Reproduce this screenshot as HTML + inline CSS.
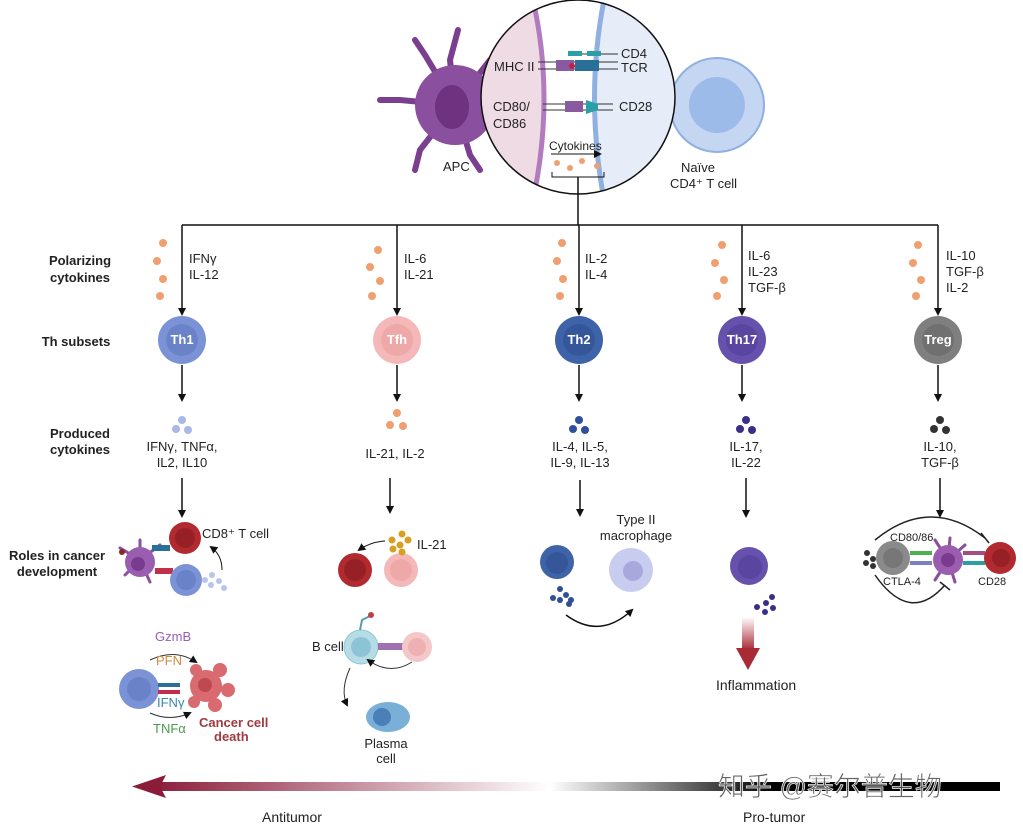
<!DOCTYPE html>
<html><head><meta charset="utf-8"><style>
html,body{margin:0;padding:0;background:#fff}
svg{display:block}
text{font-family:"Liberation Sans","Noto Sans CJK SC",sans-serif;font-size:13px;fill:#222}
.b{font-weight:bold}
</style></head><body>
<svg width="1023" height="827" viewBox="0 0 1023 827" xmlns="http://www.w3.org/2000/svg">
<defs>
<marker id="a" markerWidth="8" markerHeight="8" refX="6" refY="4" orient="auto" markerUnits="userSpaceOnUse"><path d="M0,0 L8,4 L0,8 z" fill="#111"/></marker>
<linearGradient id="g1" x1="0" x2="1"><stop offset="0" stop-color="#8a1c3a"/><stop offset="1" stop-color="#fff"/></linearGradient>
<linearGradient id="g2" x1="0" x2="1"><stop offset="0" stop-color="#fff"/><stop offset="0.5" stop-color="#000"/><stop offset="1" stop-color="#000"/></linearGradient>
<linearGradient id="g3" x1="0" y1="0" x2="0" y2="1"><stop offset="0" stop-color="#fff"/><stop offset="1" stop-color="#a82a35"/></linearGradient>
<clipPath id="cc"><circle cx="578" cy="97" r="97"/></clipPath>
</defs>
<!-- APC -->
<g fill="none" stroke="#7a3f8e" stroke-width="6" stroke-linecap="round">
<path d="M455,105 L425,55 L415,40 M455,105 L450,60 L458,30 M455,105 L400,100 L380,100 M455,105 L420,150 L415,170 M455,105 L470,155 L480,170 M455,105 L490,60"/>
</g>
<circle cx="455" cy="105" r="40" fill="#8a4f9e"/>
<ellipse cx="452" cy="107" rx="17" ry="22" fill="#6e3280"/>
<!-- T cell -->
<circle cx="717" cy="105" r="47" fill="#c4d6f2" stroke="#8fb0e0" stroke-width="2"/>
<circle cx="717" cy="105" r="28" fill="#9dbbe8"/>
<!-- big circle -->
<g clip-path="url(#cc)">
<rect x="480" y="0" width="200" height="200" fill="#fff"/>
<path d="M480,0 L533,0 Q555,97 533,200 L480,200z" fill="#efdbe4"/>
<path d="M533,0 Q555,97 533,200" fill="none" stroke="#b27bbf" stroke-width="5"/>
<path d="M604,0 Q585,97 604,200 L680,200 L680,0z" fill="#e6edf8"/>
<path d="M604,0 Q585,97 604,200" fill="none" stroke="#8fb0e0" stroke-width="5"/>
</g>
<circle cx="578" cy="97" r="97" fill="none" stroke="#111" stroke-width="1.5"/>
<g stroke="#333" stroke-width="1"><line x1="538" y1="62" x2="618" y2="62"/><line x1="538" y1="69" x2="618" y2="69"/><line x1="543" y1="104" x2="613" y2="104"/><line x1="543" y1="110" x2="613" y2="110"/><line x1="575" y1="54" x2="618" y2="54"/></g>
<rect x="556" y="60" width="18" height="11" fill="#8a5aa0"/><rect x="575" y="60" width="24" height="11" fill="#2a6f98"/>
<rect x="568" y="51" width="14" height="5" fill="#2aa0a6"/><rect x="587" y="51" width="14" height="5" fill="#2aa0a6"/>
<circle cx="572" cy="66" r="3" fill="#c0204a"/>
<rect x="565" y="101" width="18" height="11" fill="#8a5aa0"/><path d="M586,100 L598,104 L598,110 L586,114z" fill="#2aa0a6"/>
<text x="494" y="71">MHC II</text><text x="621" y="58">CD4</text><text x="621" y="72">TCR</text>
<text x="493" y="111">CD80/</text><text x="493" y="128">CD86</text><text x="619" y="111">CD28</text>
<text x="549" y="150" style="font-size:12px">Cytokines</text>
<line x1="551" y1="154" x2="600" y2="154" stroke="#111" marker-end="url(#a)"/>
<g fill="#f0a070"><circle cx="557" cy="163" r="3"/><circle cx="570" cy="168" r="3"/><circle cx="582" cy="161" r="3"/><circle cx="597" cy="166" r="3"/></g>
<path d="M552,172 L552,177 L604,177 L604,172" fill="none" stroke="#111"/>
<text x="443" y="171">APC</text>
<text x="681" y="172">Naïve</text><text x="670" y="188">CD4⁺ T cell</text>
<!-- tree -->
<g stroke="#111" stroke-width="1.5" fill="none">
<line x1="578" y1="177" x2="578" y2="225"/>
<line x1="182" y1="225" x2="938" y2="225"/>
</g>
<g stroke="#111" stroke-width="1.5" marker-end="url(#a)">
<line x1="182" y1="225" x2="182" y2="314"/><line x1="397" y1="225" x2="397" y2="314"/><line x1="579" y1="225" x2="579" y2="314"/><line x1="742" y1="225" x2="742" y2="314"/><line x1="938" y1="225" x2="938" y2="314"/>
<line x1="182" y1="365" x2="182" y2="400"/><line x1="397" y1="365" x2="397" y2="400"/><line x1="579" y1="365" x2="579" y2="400"/><line x1="742" y1="365" x2="742" y2="400"/><line x1="938" y1="365" x2="938" y2="400"/>
<line x1="182" y1="478" x2="182" y2="516"/><line x1="390" y1="478" x2="390" y2="512"/><line x1="580" y1="480" x2="580" y2="515"/><line x1="746" y1="478" x2="746" y2="516"/><line x1="940" y1="478" x2="940" y2="516"/>
</g>
<!-- left labels -->
<g text-anchor="middle"><text x="80" y="265" class="b">Polarizing</text><text x="80" y="282" class="b">cytokines</text>
<text x="76" y="346" class="b">Th subsets</text>
<text x="80" y="438" class="b">Produced</text><text x="80" y="454" class="b">cytokines</text>
<text x="57" y="560" class="b">Roles in cancer</text><text x="57" y="576" class="b">development</text></g>
<!-- polarizing dots -->
<g fill="#f0a070">
<circle cx="163" cy="243" r="4"/><circle cx="157" cy="261" r="4"/><circle cx="163" cy="279" r="4"/><circle cx="160" cy="296" r="4"/>
<circle cx="378" cy="250" r="4"/><circle cx="370" cy="267" r="4"/><circle cx="380" cy="281" r="4"/><circle cx="372" cy="296" r="4"/>
<circle cx="562" cy="243" r="4"/><circle cx="557" cy="261" r="4"/><circle cx="563" cy="279" r="4"/><circle cx="560" cy="296" r="4"/>
<circle cx="722" cy="245" r="4"/><circle cx="715" cy="263" r="4"/><circle cx="724" cy="280" r="4"/><circle cx="717" cy="296" r="4"/>
<circle cx="918" cy="245" r="4"/><circle cx="913" cy="263" r="4"/><circle cx="921" cy="280" r="4"/><circle cx="916" cy="296" r="4"/>
</g>
<text x="189" y="263">IFNγ</text><text x="189" y="279">IL-12</text>
<text x="404" y="263">IL-6</text><text x="404" y="279">IL-21</text>
<text x="585" y="263">IL-2</text><text x="585" y="279">IL-4</text>
<text x="748" y="260">IL-6</text><text x="748" y="276">IL-23</text><text x="748" y="292">TGF-β</text>
<text x="946" y="260">IL-10</text><text x="946" y="276">TGF-β</text><text x="946" y="292">IL-2</text>
<!-- subsets -->
<g text-anchor="middle">
<circle cx="182" cy="340" r="24" fill="#7b93d6"/><circle cx="182" cy="340" r="16" fill="#6a82c8"/><text x="182" y="344" class="b" style="fill:#fff">Th1</text>
<circle cx="397" cy="340" r="24" fill="#f4b8b8"/><circle cx="397" cy="340" r="16" fill="#eea8a8"/><text x="397" y="344" class="b" style="fill:#fff">Tfh</text>
<circle cx="579" cy="340" r="24" fill="#3f63a8"/><circle cx="579" cy="340" r="16" fill="#35579a"/><text x="579" y="344" class="b" style="fill:#fff">Th2</text>
<circle cx="742" cy="340" r="24" fill="#6652ad"/><circle cx="742" cy="340" r="16" fill="#5a46a0"/><text x="742" y="344" class="b" style="fill:#fff">Th17</text>
<circle cx="938" cy="340" r="24" fill="#7f7f7f"/><circle cx="938" cy="340" r="16" fill="#707070"/><text x="938" y="344" class="b" style="fill:#fff">Treg</text>
</g>
<!-- produced dots -->
<g fill="#a9b8e6"><circle cx="182" cy="420" r="4"/><circle cx="176" cy="429" r="4"/><circle cx="188" cy="430" r="4"/></g>
<g fill="#f0a070"><circle cx="397" cy="413" r="4"/><circle cx="390" cy="425" r="4"/><circle cx="403" cy="426" r="4"/></g>
<g fill="#2f4f98"><circle cx="579" cy="420" r="4"/><circle cx="573" cy="429" r="4"/><circle cx="585" cy="430" r="4"/></g>
<g fill="#3a2f88"><circle cx="746" cy="420" r="4"/><circle cx="740" cy="429" r="4"/><circle cx="752" cy="430" r="4"/></g>
<g fill="#333"><circle cx="940" cy="420" r="4"/><circle cx="934" cy="429" r="4"/><circle cx="946" cy="430" r="4"/></g>
<g text-anchor="middle"><text x="182" y="451">IFNγ, TNFα,</text><text x="182" y="467">IL2, IL10</text>
<text x="395" y="458">IL-21, IL-2</text>
<text x="580" y="451">IL-4, IL-5,</text><text x="580" y="467">IL-9, IL-13</text>
<text x="746" y="451">IL-17,</text><text x="746" y="467">IL-22</text>
<text x="940" y="451">IL-10,</text><text x="940" y="467">TGF-β</text></g>
<!-- Th1 roles -->
<g stroke="#8a4f9e" stroke-width="3" stroke-linecap="round"><path d="M140,560 L120,548 M140,560 L125,575 M140,560 L140,540 M140,560 L150,582 M140,560 L160,545"/></g>
<circle cx="140" cy="562" r="15" fill="#9a5db0"/><circle cx="138" cy="564" r="7" fill="#7a3a90"/>
<circle cx="122" cy="552" r="3" fill="#8a2a20"/>
<rect x="152" y="545" width="18" height="6" fill="#2a6f98"/><rect x="155" y="568" width="18" height="6" fill="#c0304a"/>
<circle cx="185" cy="538" r="16" fill="#b02a30"/><circle cx="185" cy="538" r="10" fill="#962025"/>
<circle cx="186" cy="580" r="16" fill="#7b93d6"/><circle cx="186" cy="580" r="10" fill="#6a82c8"/>
<g fill="#b8c4ec"><circle cx="205" cy="580" r="3"/><circle cx="212" cy="575" r="3"/><circle cx="211" cy="585" r="3"/><circle cx="219" cy="581" r="3"/><circle cx="224" cy="588" r="3"/></g>
<path d="M222,570 Q222,555 211,547" fill="none" stroke="#111" marker-end="url(#a)"/>
<text x="202" y="538">CD8⁺ T cell</text>
<!-- Th1 killing -->
<circle cx="139" cy="689" r="20" fill="#7b93d6"/><circle cx="139" cy="689" r="12" fill="#6a82c8"/>
<rect x="158" y="683" width="22" height="4" fill="#2a6f98"/><rect x="158" y="690" width="22" height="4" fill="#c0304a"/>
<g fill="#d86a70"><circle cx="206" cy="686" r="16"/><circle cx="196" cy="670" r="6"/><circle cx="220" cy="670" r="7"/><circle cx="228" cy="690" r="7"/><circle cx="215" cy="705" r="7"/><circle cx="194" cy="702" r="6"/></g>
<circle cx="205" cy="685" r="7" fill="#c04850"/>
<path d="M150,660 Q175,648 196,662" fill="none" stroke="#333" marker-end="url(#a)"/>
<path d="M150,713 Q170,722 190,713" fill="none" stroke="#333" marker-end="url(#a)"/>
<text x="155" y="641" style="fill:#9a5db0">GzmB</text>
<text x="156" y="665" style="fill:#d08a40">PFN</text>
<text x="157" y="707" style="fill:#3a86b0">IFNγ</text>
<text x="153" y="733" style="fill:#4a9a50">TNFα</text>
<text x="199" y="727" class="b" style="fill:#a03a40">Cancer cell</text>
<text x="214" y="741" class="b" style="fill:#a03a40">death</text>
<!-- Tfh roles -->
<circle cx="355" cy="570" r="17" fill="#b02a30"/><circle cx="355" cy="570" r="11" fill="#962025"/>
<circle cx="401" cy="570" r="17" fill="#f4b8b8"/><circle cx="401" cy="570" r="11" fill="#eea8a8"/>
<g fill="#d8a020"><circle cx="392" cy="540" r="3.5"/><circle cx="402" cy="534" r="3.5"/><circle cx="400" cy="545" r="3.5"/><circle cx="408" cy="540" r="3.5"/><circle cx="393" cy="549" r="3.5"/><circle cx="402" cy="552" r="3.5"/></g>
<path d="M385,541 Q370,542 359,550" fill="none" stroke="#111" marker-end="url(#a)"/>
<text x="417" y="549">IL-21</text>
<circle cx="361" cy="647" r="17" fill="#b8dce6" stroke="#8cc" /><circle cx="361" cy="647" r="10" fill="#8cc4d6"/>
<rect x="378" y="643" width="34" height="7" fill="#a070b0"/>
<circle cx="417" cy="647" r="15" fill="#f4c8c8"/><circle cx="417" cy="647" r="9" fill="#eeb0b0"/>
<path d="M360,630 L362,620 L370,616" stroke="#5a9ab0" stroke-width="2" fill="none"/><circle cx="371" cy="615" r="3" fill="#c04040"/>
<path d="M412,662 Q390,676 368,660" fill="none" stroke="#333" marker-end="url(#a)"/>
<path d="M350,668 Q340,690 347,705" fill="none" stroke="#333" marker-end="url(#a)"/>
<ellipse cx="388" cy="717" rx="22" ry="15" fill="#7ab0d8"/><circle cx="382" cy="717" r="9" fill="#4a7fb8"/>
<text x="312" y="651">B cell</text>
<g text-anchor="middle"><text x="386" y="748">Plasma</text><text x="386" y="763">cell</text></g>
<!-- Th2 roles -->
<circle cx="557" cy="562" r="17" fill="#3f63a8"/><circle cx="557" cy="563" r="11" fill="#35579a"/>
<g fill="#2f4f98"><circle cx="560" cy="589" r="3"/><circle cx="566" cy="595" r="3"/><circle cx="560" cy="600" r="3"/><circle cx="571" cy="600" r="3"/><circle cx="553" cy="598" r="3"/><circle cx="569" cy="604" r="3"/></g>
<circle cx="631" cy="570" r="22" fill="#c8cdf0"/><circle cx="633" cy="571" r="10" fill="#a8a8dc"/>
<path d="M566,615 Q600,640 632,610" fill="none" stroke="#111" stroke-width="1.5" marker-end="url(#a)"/>
<g text-anchor="middle"><text x="636" y="524">Type II</text><text x="636" y="540">macrophage</text></g>
<!-- Th17 roles -->
<circle cx="749" cy="566" r="19" fill="#6652ad"/><circle cx="750" cy="567" r="12" fill="#5a46a0"/>
<g fill="#3a2f88"><circle cx="772" cy="597" r="3"/><circle cx="766" cy="603" r="3"/><circle cx="773" cy="608" r="3"/><circle cx="765" cy="612" r="3"/><circle cx="757" cy="607" r="3"/></g>
<rect x="742" y="617" width="12" height="33" fill="url(#g3)"/>
<path d="M736,648 L760,648 L748,670z" fill="#a82a35"/>
<text x="716" y="690" style="font-size:14px">Inflammation</text>
<!-- Treg roles -->
<path d="M875,540 Q930,495 985,538" fill="none" stroke="#222" stroke-width="1.5"/><line x1="981" y1="533" x2="989" y2="543" stroke="#222" stroke-width="1.5"/>
<path d="M875,575 Q910,625 945,585" fill="none" stroke="#222" stroke-width="1.5"/><line x1="940" y1="582" x2="950" y2="590" stroke="#222" stroke-width="1.5"/>
<circle cx="893" cy="558" r="17" fill="#8a8a8a"/><circle cx="893" cy="558" r="10" fill="#777"/>
<g fill="#333"><circle cx="867" cy="553" r="3"/><circle cx="873" cy="559" r="3"/><circle cx="866" cy="563" r="3"/><circle cx="873" cy="566" r="3"/></g>
<rect x="910" y="551" width="22" height="4" fill="#4ab050"/><rect x="910" y="561" width="22" height="4" fill="#7a80c0"/>
<g stroke="#8a4f9e" stroke-width="3" stroke-linecap="round"><path d="M948,560 L935,540 M948,560 L950,538 M948,560 L965,545 M948,560 L935,580 M948,560 L955,582"/></g>
<circle cx="948" cy="560" r="15" fill="#9a5db0"/><circle cx="948" cy="560" r="7" fill="#7a3a90"/>
<rect x="963" y="551" width="22" height="4" fill="#a05080"/><rect x="963" y="561" width="22" height="4" fill="#2aa0a6"/>
<circle cx="1000" cy="558" r="16" fill="#b02a30"/><circle cx="1001" cy="558" r="9" fill="#962025"/>
<text x="890" y="541" style="font-size:11px">CD80/86</text>
<text x="883" y="585" style="font-size:11px">CTLA-4</text>
<text x="978" y="585" style="font-size:11px">CD28</text>
<!-- bottom arrow -->
<rect x="150" y="782" width="400" height="9" fill="url(#g1)"/>
<path d="M132,786.5 L166,775 L160,786.5 L166,798z" fill="#8a1c3a"/>
<rect x="550" y="782" width="450" height="9" fill="url(#g2)"/>
<text x="718" y="796" style="font-size:27px;fill:#555;stroke:#fff;stroke-width:0.8;opacity:0.9">知乎 @赛尔普生物</text>
<text x="262" y="822" style="font-size:14px">Antitumor</text>
<text x="743" y="822" style="font-size:14px">Pro-tumor</text>
</svg>
</body></html>
